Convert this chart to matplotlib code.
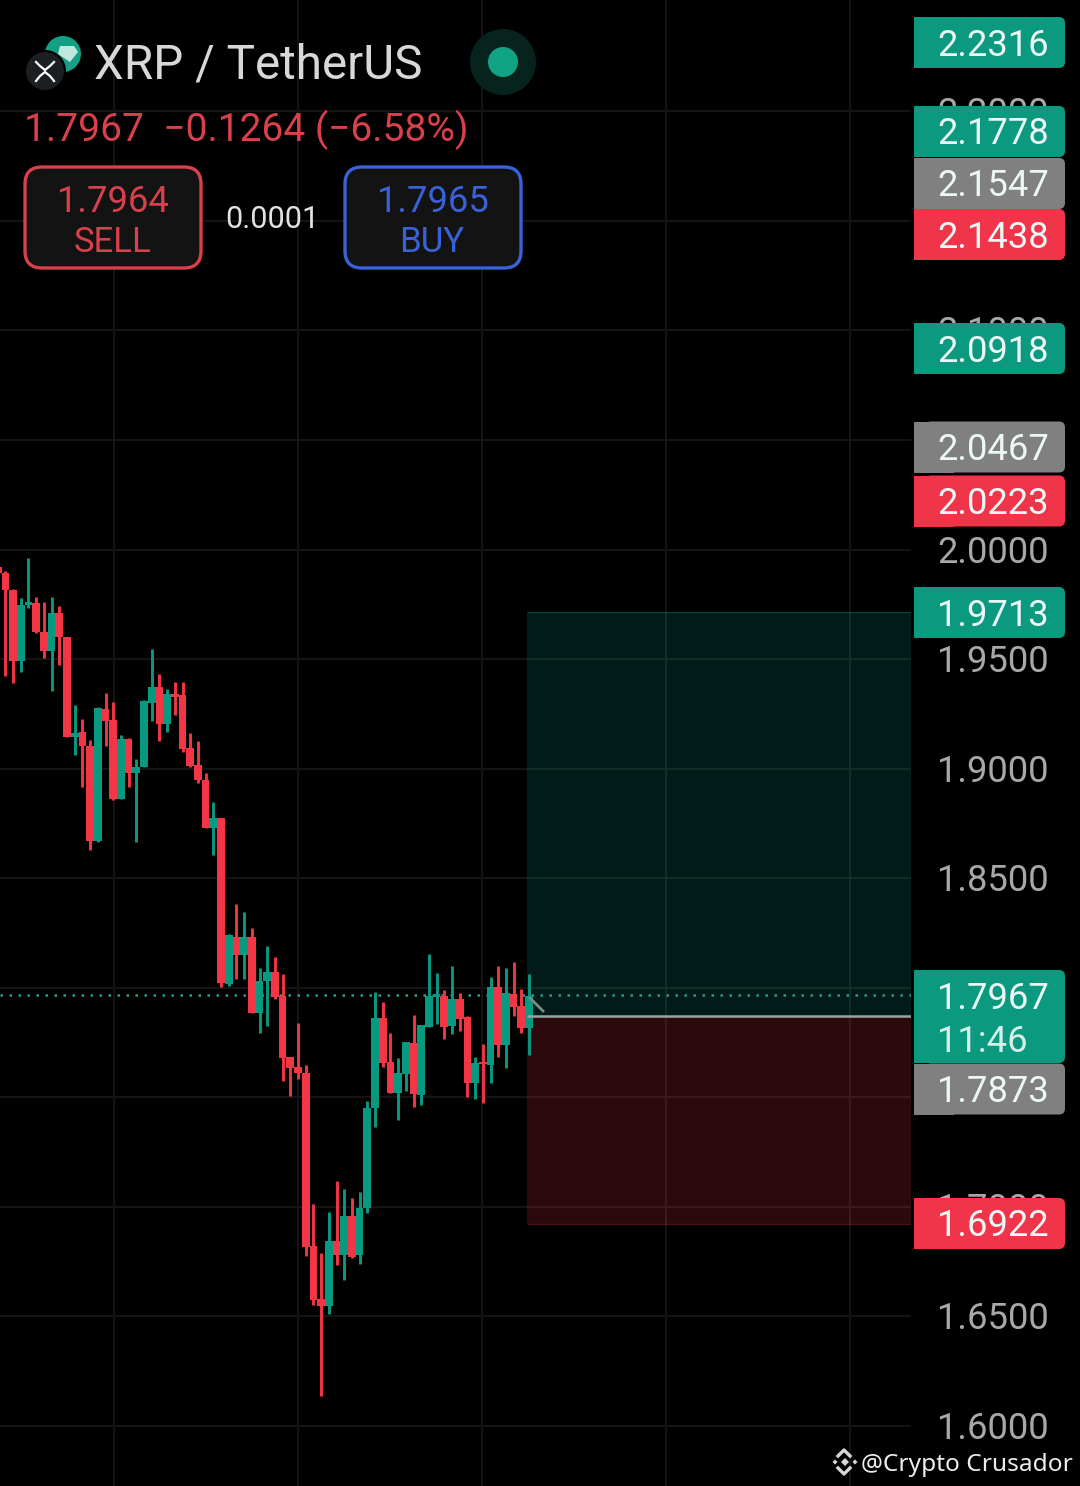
import matplotlib
matplotlib.use('Agg')
import matplotlib.pyplot as plt
from matplotlib.patches import Circle, FancyBboxPatch, Polygon, Rectangle
from matplotlib.transforms import ScaledTranslation

plt.rcParams['font.family'] = ['Roboto', 'DejaVu Sans']

# candles, oldest first
opens = [1.9920, 1.9893, 1.9815, 1.9491, 1.9747, 1.9756, 1.9624, 1.9537, 1.9710, 1.9601,
         1.9144, 1.9167, 1.9103, 1.8669, 1.9272, 1.9222, 1.8861, 1.9135, 1.8980, 1.9007,
         1.9300, 1.9373, 1.9204, 1.9341, 1.9336, 1.9095, 1.9017, 1.8948, 1.8729, 1.8775,
         1.8017, 1.8231, 1.8149, 1.8231, 1.7885, 1.8031, 1.8072, 1.7962, 1.7684, 1.7638,
         1.7611, 1.6822, 1.6579, 1.6547, 1.6844, 1.6780, 1.6958, 1.6780, 1.6994, 1.7451,
         1.7862, 1.7661, 1.7520, 1.7607, 1.7748, 1.7511, 1.7821, 1.7958, 1.7962, 1.7825,
         1.7949, 1.7866, 1.7565, 1.7661, 1.7648, 1.8003, 1.7739, 1.7971, 1.7917, 1.7816]
highs = [1.9952, 1.9902, 1.9820, 1.9779, 1.9961, 1.9783, 1.9761, 1.9783, 1.9742, 1.9601,
         1.9290, 1.9226, 1.9131, 1.9281, 1.9345, 1.9304, 1.9153, 1.9140, 1.9044, 1.9313,
         1.9546, 1.9432, 1.9364, 1.9395, 1.9395, 1.9163, 1.9126, 1.8980, 1.8848, 1.8775,
         1.8245, 1.8382, 1.8346, 1.8272, 1.8090, 1.8190, 1.8140, 1.8063, 1.7684, 1.7839,
         1.7648, 1.7013, 1.6789, 1.6976, 1.7118, 1.7081, 1.7040, 1.7067, 1.7483, 1.7981,
         1.7935, 1.7793, 1.7679, 1.7752, 1.7876, 1.7830, 1.8154, 1.8067, 1.7990, 1.8099,
         1.7976, 1.7871, 1.7684, 1.7743, 1.8049, 1.8099, 1.8090, 1.8117, 1.7995, 1.8063]
lows = [1.9838, 1.9423, 1.9391, 1.9441, 1.9733, 1.9619, 1.9505, 1.9354, 1.9473, 1.9144,
        1.9062, 1.8916, 1.8628, 1.8664, 1.9103, 1.8857, 1.8861, 1.8916, 1.8664, 1.9007,
        1.9217, 1.9126, 1.9167, 1.9245, 1.9076, 1.9007, 1.8934, 1.8729, 1.8606, 1.8003,
        1.8008, 1.8040, 1.8040, 1.7885, 1.7793, 1.7825, 1.7949, 1.7574, 1.7506, 1.7584,
        1.6775, 1.6552, 1.6137, 1.6511, 1.6735, 1.6666, 1.6766, 1.6739, 1.6972, 1.7364,
        1.7638, 1.7520, 1.7396, 1.7529, 1.7456, 1.7465, 1.7821, 1.7835, 1.7766, 1.7789,
        1.7802, 1.7502, 1.7492, 1.7474, 1.7565, 1.7684, 1.7634, 1.7871, 1.7793, 1.7693]
closes = [1.9893, 1.9815, 1.9491, 1.9747, 1.9761, 1.9624, 1.9537, 1.9710, 1.9601, 1.9144,
          1.9162, 1.9103, 1.8669, 1.9277, 1.9217, 1.8861, 1.9135, 1.8980, 1.9007, 1.9309,
          1.9373, 1.9204, 1.9341, 1.9327, 1.9090, 1.9012, 1.8948, 1.8729, 1.8775, 1.8022,
          1.8241, 1.8149, 1.8231, 1.7885, 1.8031, 1.8072, 1.7958, 1.7679, 1.7634, 1.7611,
          1.6817, 1.6575, 1.6547, 1.6844, 1.6780, 1.6958, 1.6771, 1.6994, 1.7451, 1.7862,
          1.7657, 1.7520, 1.7611, 1.7752, 1.7515, 1.7830, 1.7962, 1.7971, 1.7821, 1.7949,
          1.7857, 1.7565, 1.7657, 1.7652, 1.8003, 1.7739, 1.7976, 1.7912, 1.7816, 1.7962]

last_price = 1.7967
entry_price = 1.7873
target_price = 1.9713
stop_price = 1.6922

price_ticks = [1.60, 1.65, 1.70, 1.75, 1.80, 1.85, 1.90, 1.95, 2.00, 2.05, 2.10, 2.15, 2.20]
# these sit fully behind a price tag, so they only get a grid line
hidden_ticks = [1.75, 1.80, 2.05, 2.15]
time_ticks = [15.1, 39.0, 62.9, 86.8, 110.7]

tag_labels = ['2.2316', '2.1778', '2.1547', '2.1438', '2.0918', '2.0467', '2.0223', '1.9713', '1.7873', '1.6922']
tag_kinds = ['up', 'up', 'flat', 'down', 'up', 'flat', 'down', 'up', 'flat', 'down']
# the app pushes some tags away from their price so they don't overlap
tag_centers = [42.5, 131.5, 183.5, 234.5, 348.5, 447, 501, 612.5, 1089, 1223.5]

UP = '#089981'
DOWN = '#f23645'
tag_colors = {'up': '#0b9a80', 'down': '#f0354b', 'flat': '#808080'}
GRID = '#141414'

fig = plt.figure(figsize=(10.8, 14.86), dpi=100, facecolor='black')
ax = fig.add_axes([0, 0, 911 / 1080, 1], facecolor='black')
ax.set_xlim(0.3, 118.6)
ax.set_ylim(1.5726, 2.2508)
ax.set_axisbelow(True)
for spine in ax.spines.values():
    spine.set_visible(False)

ax.set_yticks(price_ticks, labels=['' if p in hidden_ticks else f'{p:.4f}' for p in price_ticks])
ax.set_xticks(time_ticks, labels=[])
ax.yaxis.tick_right()
ax.tick_params(axis='both', length=0)
ax.tick_params(axis='y', pad=19, labelsize=26.2, labelcolor='#a8a8a8')
ax.grid(True, color=GRID, lw=1.5)
for tick_label in ax.get_yticklabels():
    tick_label.set_transform(tick_label.get_transform() + ScaledTranslation(0, 1 / 100, fig.dpi_scale_trans))

# long position zones
zone_start = 68.75
ax.add_patch(Rectangle((zone_start, entry_price), 118.6 - zone_start, target_price - entry_price,
                       facecolor=UP, alpha=0.19, edgecolor='none', zorder=1))
ax.add_patch(Rectangle((zone_start, stop_price), 118.6 - zone_start, entry_price - stop_price,
                       facecolor=DOWN, alpha=0.18, edgecolor='none', zorder=1))
ax.hlines(target_price, zone_start, 118.6, colors=UP, lw=1, alpha=0.3, zorder=1.5)
ax.hlines(stop_price, zone_start, 118.6, colors=DOWN, lw=1, alpha=0.3, zorder=1.5)

# last price line sits under the candles
ax.axhline(last_price, color='#2a9d8a', lw=1.8, ls=(0, (1, 2.6)), zorder=1.8)

for i in range(len(opens)):
    color = UP if closes[i] >= opens[i] else DOWN
    ax.vlines(i, lows[i], highs[i], colors=color, lw=2.1, zorder=2)
    ax.bar(i, abs(closes[i] - opens[i]), bottom=min(opens[i], closes[i]), width=1.0,
           color=color, linewidth=0, zorder=3)

ax.hlines(entry_price, zone_start, 118.6, colors='#9aa5a3', lw=1.8, zorder=4)

# everything else is app chrome, drawn in pixels
ui = fig.add_axes([0, 0, 1, 1])
ui.set_xlim(0, 1080)
ui.set_ylim(1486, 0)
ui.axis('off')
ui.patch.set_alpha(0)


def draw_tag(top, bottom, color):
    # only the right corners are rounded
    ui.add_patch(FancyBboxPatch((930, top + 5), 130, bottom - top - 10, boxstyle='round,pad=5,rounding_size=6',
                                facecolor=color, edgecolor='none', zorder=5))
    ui.add_patch(Rectangle((914, top), 40, bottom - top, facecolor=color, edgecolor='none', zorder=5))


for label, kind, center in zip(tag_labels, tag_kinds, tag_centers):
    draw_tag(center - 25.5, center + 25.5, tag_colors[kind])
    ui.text(937.5, center - 1, label, color='#ecf8f5', fontsize=26.2, va='center_baseline', ha='left', zorder=6)

draw_tag(970, 1063, tag_colors['up'])
ui.text(937.5, 995, f'{last_price:.4f}', color='#ecf8f5', fontsize=26.2, va='center_baseline', zorder=6)
ui.text(937.5, 1038, '11:46', color='#d5efe9', fontsize=26.2, va='center_baseline', zorder=6)

# small arrow at the end of the price line
ui.plot([530, 543], [998, 1011], color='#7f8a88', lw=2, zorder=4)

# header
ui.add_patch(Circle((63, 54), 18, facecolor='#14a085', edgecolor='none', zorder=2))
ui.add_patch(Polygon([[60, 46], [74, 46], [78, 52], [70, 62], [58, 54]], facecolor='#bfe9df', edgecolor='none', zorder=2.5))
ui.add_patch(Circle((45, 71), 20, facecolor='#1c1f22', edgecolor='black', lw=1.5, zorder=3))
ui.plot([36, 40, 45, 50, 54], [62, 66, 70, 66, 62], color='white', lw=1.6, zorder=4)
ui.plot([36, 40, 45, 50, 54], [81, 76, 72, 76, 81], color='white', lw=1.6, zorder=4)
ui.text(93.5, 61, 'XRP / TetherUS', color='#d8d8d8', fontsize=34.3, va='center_baseline', ha='left')
ui.add_patch(Circle((503, 62), 33, facecolor='#06231e', edgecolor='none'))
ui.add_patch(Circle((503, 62), 15, facecolor='#10a384', edgecolor='none'))

ui.text(24, 125, '1.7967  −0.1264 (−6.58%)', color='#d8404c', fontsize=28.1, va='center_baseline', ha='left')

ui.add_patch(FancyBboxPatch((25, 167), 176, 101, boxstyle='round,pad=0,rounding_size=17',
                            facecolor='#131313', edgecolor='#d8404c', lw=2.4))
ui.text(113, 197.5, '1.7964', color='#d8404c', fontsize=26.2, va='center_baseline', ha='center')
ui.text(112.5, 239, 'SELL', color='#d8404c', fontsize=25, va='center_baseline', ha='center')
ui.text(272, 216, '0.0001', color='#e2e2e2', fontsize=22, va='center_baseline', ha='center')
ui.add_patch(FancyBboxPatch((345, 167), 176, 101, boxstyle='round,pad=0,rounding_size=17',
                            facecolor='#131313', edgecolor='#3a62d8', lw=2.4))
ui.text(432.5, 197.5, '1.7965', color='#3a62d8', fontsize=26.2, va='center_baseline', ha='center')
ui.text(432, 239, 'BUY', color='#3a62d8', fontsize=25, va='center_baseline', ha='center')

# watermark
for cx, cy, r in [(845, 1462, 4), (835, 1462, 2.5), (855, 1462, 2.5)]:
    ui.add_patch(Polygon([[cx - r, cy], [cx, cy - r], [cx + r, cy], [cx, cy + r]], facecolor='#d8d8d8', edgecolor='none', zorder=6))
ui.plot([838, 844, 850], [1456, 1450, 1456], color='#d8d8d8', lw=2.4, zorder=6)
ui.plot([838, 844, 850], [1468, 1474, 1468], color='#d8d8d8', lw=2.4, zorder=6)
ui.text(861, 1462, '@Crypto Crusador', color='#ededed', fontsize=17.6, family=['Noto Sans', 'DejaVu Sans'],
        va='center_baseline', ha='left', zorder=6)

plt.savefig('out.png', dpi=100, facecolor='black')
plt.close('all')
